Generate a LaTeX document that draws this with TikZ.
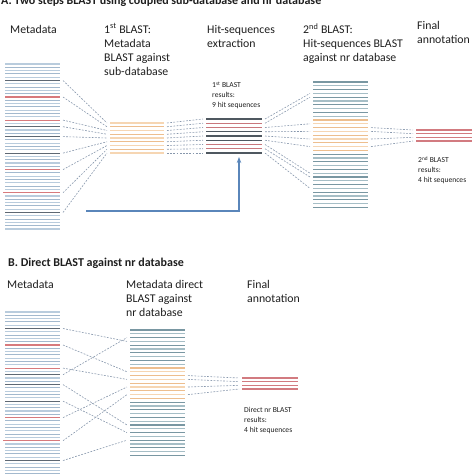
\documentclass[tikz,border=0pt]{standalone}
\usepackage{fontspec}
\setmainfont{Carlito}
\usetikzlibrary{arrows.meta}
\definecolor{txt}{HTML}{1E1E1E}
\definecolor{mlight}{HTML}{B9CCDD}
\definecolor{mmid}{HTML}{A3B9CE}
\definecolor{mred}{HTML}{D77A7D}
\definecolor{mdark}{HTML}{5E6873}
\definecolor{orA}{HTML}{F6D6B3}
\definecolor{orB}{HTML}{EDBE8E}
\definecolor{hdark}{HTML}{4F5860}
\definecolor{hred}{HTML}{C9777C}
\definecolor{nrA}{HTML}{7997A2}
\definecolor{nrB}{HTML}{A6BEC6}
\definecolor{fred}{HTML}{D27B80}
\definecolor{dashc}{HTML}{8797AC}
\definecolor{arrowc}{HTML}{5A86BA}
\newcommand\metastack[2]{% #1 prefix, #2 y offset
  \foreach \k in {0,2,...,50} \draw[seq,mlight] (5,64+3.3*\k+#2) -- (60,64+3.3*\k+#2);
  \foreach \k in {1,3,...,49} \draw[seq,mmid] (5,64+3.3*\k+#2) -- (60,64+3.3*\k+#2);
  \foreach \k in {10,17,32} \draw[seq,mred] (5,64+3.3*\k+#2) -- (60,64+3.3*\k+#2);
  \draw[seq,mred] (3,64+3.3*39+#2) -- (60,64+3.3*39+#2);
  \foreach \k in {5,19,22,27,45} \draw[seq,mdark] (5,64+3.3*\k+#2) -- (60,64+3.3*\k+#2);
  \foreach \k in {5,10,17,19,22,27,32,39,45} \coordinate (#1m\k) at (63,64+3.3*\k+#2);
}
\newcommand\nrstack[3]{% #1 prefix, #2 x left, #3 y offset
  \foreach \j in {0,...,9} {\ifodd\j \def\cc{nrB}\else\def\cc{nrA}\fi
    \draw[seq,\cc] (#2,82+3.8*\j+#3) -- (#2+55,82+3.8*\j+#3);}
  \foreach \j in {10,...,18} {\ifodd\j \def\cc{orA}\else\def\cc{orB}\fi
    \draw[seq,\cc] (#2,82+3.8*\j+#3) -- (#2+55,82+3.8*\j+#3);}
  \foreach \j in {19,...,33} {\ifodd\j \def\cc{nrA}\else\def\cc{nrB}\fi
    \draw[seq,\cc] (#2,82+3.8*\j+#3) -- (#2+55,82+3.8*\j+#3);}
  \foreach \j in {0,...,33} {
    \coordinate (#1l\j) at (#2-3,82+3.8*\j+#3);
    \coordinate (#1r\j) at (#2+58,82+3.8*\j+#3);}
}
\newcommand\finalstack[3]{% #1 prefix, #2 x left, #3 y offset
  \foreach \i in {0,...,3} {
    \draw[seq,fred] (#2,130+3.67*\i+#3) -- (#2+56,130+3.67*\i+#3);
    \coordinate (#1f\i) at (#2-3,130+3.67*\i+#3);}
}
\begin{document}
\begin{tikzpicture}[x=1pt,y=-1pt,
  seq/.style={line width=1.1pt},
  conn/.style={draw=dashc, dash pattern=on 1.8pt off 1.4pt, line width=0.6pt},
  hdr/.style={anchor=north west, align=left, inner sep=0pt, font=\fontsize{11.8}{14}\selectfont, text=txt},
  small/.style={anchor=north west, align=left, inner sep=0pt, font=\fontsize{7.6}{9.6}\selectfont, text=txt},
  ttl/.style={anchor=base west, inner sep=0pt, font=\bfseries\fontsize{12}{14}\selectfont, text=txt}]
\useasboundingbox (0,0) rectangle (474,474);

% ---------- Part A ----------
\node[ttl] (titleA) at (1,4.5) {A. Two steps BLAST using coupled sub-database and nr database};
% header tops = first baseline - 9.8 (strut height)
\node[hdr] (hA1) at (10,23.2) {\strut Metadata};
\node[hdr] (hA2) at (104,23.2) {\strut 1\textsuperscript{st} BLAST:\\Metadata\\BLAST against\\sub-database};
\node[hdr] (hA3) at (207,23.2) {\strut Hit-sequences\\extraction};
\node[hdr] (hA4) at (303,23.2) {\strut 2\textsuperscript{nd} BLAST:\\Hit-sequences BLAST\\against nr database};
\node[hdr] (hA5) at (417,19.2) {\strut Final\\annotation};

\metastack{A}{0}

% orange stack (sub-database hits)
\foreach \i in {0,...,8} {\ifodd\i \def\cc{orB}\else\def\cc{orA}\fi
  \draw[seq,\cc] (110,123+3.75*\i) -- (164,123+3.75*\i);
  \coordinate (ol\i) at (107,123+3.75*\i);
  \coordinate (or\i) at (167,123+3.75*\i);}

% hit sequences
\foreach \i/\c in {0/hdark,1/hred,2/hred,3/hdark,4/hdark,5/hdark,6/hred,7/hred,8/hdark} {
  \draw[seq,\c] (206,119+4.25*\i) -- (262,119+4.25*\i);
  \coordinate (hl\i) at (203,119+4.25*\i);
  \coordinate (hr\i) at (265,119+4.25*\i);}
\coordinate (hitbot) at (239,157);
\coordinate (arrS) at (86,211);

\node[small] (rA1) at (212,81) {\strut 1\textsuperscript{st} BLAST\\results:\\9 hit sequences};

\nrstack{NA}{313}{0}
\finalstack{FA}{416}{0}
\node[small] (rA2) at (418,156) {\strut 2\textsuperscript{nd} BLAST\\results:\\4 hit sequences};

\foreach \k [count=\i from 0] in {5,10,17,19,22,27,32,39,45} \draw[conn] (Am\k) -- (ol\i);
\foreach \i in {0,...,8} \draw[conn] (or\i) -- (hl\i);
\foreach \i/\j in {0/3,1/4,2/11,3/13,4/15,5/17,6/24,7/25,8/28} \draw[conn] (hr\i) -- (NAl\j);
\foreach \j [count=\i from 0] in {12,13,15,17} \draw[conn] (NAr\j) -- (FAf\i);

\draw[arrowc, line width=1.1pt, -{Stealth[length=6pt,width=4.5pt]}] (arrS) -| (hitbot);

% ---------- Part B ----------
\node[ttl] (titleB) at (8,266) {B. Direct BLAST against nr database};
\node[hdr] (hB1) at (7,278.2) {\strut Metadata};
\node[hdr] (hB2) at (126,278.2) {\strut Metadata direct\\BLAST against\\nr database};
\node[hdr] (hB3) at (247,278.2) {\strut Final\\annotation};

\metastack{B}{248}
\nrstack{NB}{130}{248}
\finalstack{FB}{242}{248}
\node[small] (rB) at (244,406) {\strut Direct nr BLAST\\results:\\4 hit sequences};

\foreach \k/\j in {5/3,10/11,17/13,19/2,22/25,27/27,32/15,39/17,45/29} \draw[conn] (Bm\k) -- (NBl\j);
\foreach \j [count=\i from 0] in {12,13,15,17} \draw[conn] (NBr\j) -- (FBf\i);
\end{tikzpicture}
\end{document}
